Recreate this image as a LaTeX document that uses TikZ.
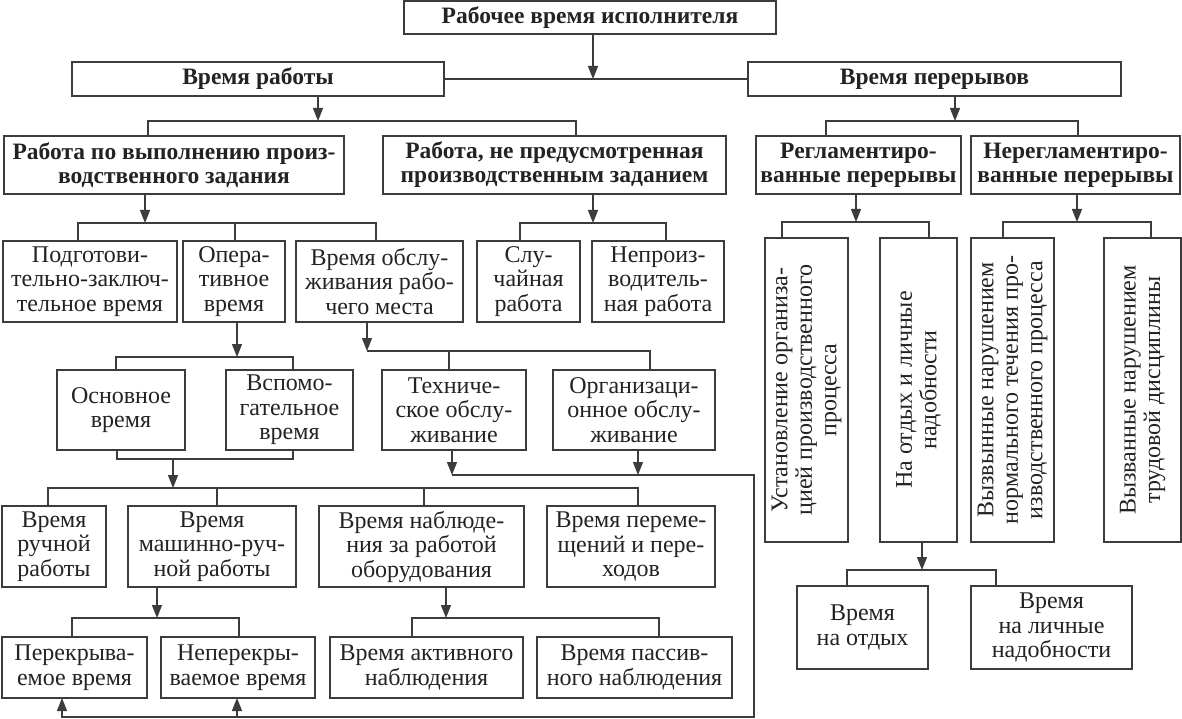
\documentclass[tikz,border=0pt]{standalone}
\usepackage{fontspec}
\setmainfont{Liberation Serif}
\usetikzlibrary{arrows.meta}
\definecolor{linec}{RGB}{60,60,60}
\definecolor{textc}{RGB}{35,35,35}
\tikzset{
  box/.style={draw=linec, line width=1.3pt, inner sep=0pt, outer sep=0pt, align=center,
    text=textc, font=\fontsize{24}{24.5}\selectfont},
  bbox/.style={box, font=\fontsize{23.5}{24}\selectfont\bfseries},
  link/.style={draw=linec, line width=1.3pt},
  arr/.style={link, -{Triangle[length=13pt,width=10pt]}},
}
% name, x1, y1, x2, y2, text (pixel coordinates, y downwards)
\newcommand\mybox[7][]{%
  \pgfmathsetmacro\bxw{#5-#3}\pgfmathsetmacro\bxh{#6-#4}%
  \pgfmathsetmacro\bxx{(#3+#5)/2}\pgfmathsetmacro\bxy{(#4+#6)/2}%
  \node[box,minimum width=\bxw pt,minimum height=\bxh pt,#1] (#2) at (\bxx,\bxy) {#7};}
\newcommand\myvbox[6]{%
  \pgfmathsetmacro\bxw{#4-#2}\pgfmathsetmacro\bxh{#5-#3}%
  \pgfmathsetmacro\bxx{(#2+#4)/2}\pgfmathsetmacro\bxy{(#3+#5)/2}%
  \node[box,rotate=90,minimum width=\bxh pt,minimum height=\bxw pt] (#1) at (\bxx,\bxy) {#6};}
\begin{document}
\begin{tikzpicture}[x=1pt,y=-1pt]
\useasboundingbox[fill=white] (0,0) rectangle (1182,719);
% level 0-1
\mybox[bbox]{root}{404}{1}{776}{34}{Рабочее время исполнителя}
\mybox[bbox]{wt}{72}{62}{444}{96}{Время работы}
\mybox[bbox]{br}{748}{62}{1121}{96}{Время перерывов}
% level 2
\mybox[bbox]{pz}{4}{136}{344}{194}{Работа по выполнению произ-\\водственного задания}
\mybox[bbox]{np}{383}{136}{726}{194}{Работа, не предусмотренная\\производственным заданием}
\mybox[bbox]{rg}{756}{136}{961}{194}{Регламентиро-\\ванные перерывы}
\mybox[bbox]{nr}{971}{136}{1180}{194}{Нерегламентиро-\\ванные перерывы}
% level 3 left
\mybox{pzv}{3}{241}{177}{322}{Подготови-\\тельно-заключ-\\тельное время}
\mybox{op}{183}{241}{285}{322}{Опера-\\тивное\\время}
\mybox{ob}{296}{241}{463}{322}{Время обслу-\\живания рабо-\\чего места}
\mybox{sl}{477}{241}{580}{322}{Слу-\\чайная\\работа}
\mybox{nw}{592}{241}{724}{322}{Непроиз-\\водитель-\\ная работа}
% level 3 right (vertical text)
\myvbox{ust}{765}{238}{848}{542}{Установление организа-\\цией производственного\\процесса}
\myvbox{otd}{880}{238}{957}{542}{На отдых и личные\\надобности}
\myvbox{vna}{971}{238}{1054}{542}{Вызвынные нарушением\\нормального течения про-\\изводственного процесса}
\myvbox{vnb}{1104}{238}{1181}{542}{Вызванные нарушением\\трудовой дисциплины}
% level 4
\mybox{osn}{57}{370}{185}{450}{Основное\\время}
\mybox{vsp}{226}{370}{353}{450}{Вспомо-\\гательное\\время}
\mybox{teh}{382}{370}{526}{450}{Техниче-\\ское обслу-\\живание}
\mybox{org}{553}{370}{715}{450}{Организаци-\\онное обслу-\\живание}
% level 5
\mybox{ruch}{2}{506}{106}{587}{Время\\ручной\\работы}
\mybox{mash}{128}{506}{296}{587}{Время\\машинно-руч-\\ной работы}
\mybox{nab}{319}{506}{524}{587}{Время наблюде-\\ния за работой\\оборудования}
\mybox{per}{547}{506}{715}{587}{Время переме-\\щений и пере-\\ходов}
% level 6
\mybox{pk}{2}{637}{147}{698}{Перекрыва-\\емое время}
\mybox{npk}{161}{637}{315}{698}{Неперекры-\\ваемое время}
\mybox{akt}{330}{637}{523}{698}{Время активного\\наблюдения}
\mybox{pas}{537}{637}{732}{698}{Время пассив-\\ного наблюдения}
% right bottom
\mybox{vo}{797}{586}{928}{669}{Время\\на отдых}
\mybox{vl}{971}{586}{1132}{669}{Время\\на личные\\надобности}

% ---- connectors ----
\draw[link] (wt.east) -- (br.west);
\draw[arr] (root.south -| 593,0) -- (wt.east -| 593,0);
% Время работы
\draw[arr] (wt.south -| 318,0) -- ++(0,25);
\draw[link] (pz.north -| 148,0) -- ++(0,-15) -| (np.north -| 576,0);
% Время перерывов
\draw[arr] (br.south -| 955,0) -- ++(0,25);
\draw[link] (rg.north -| 826,0) -- ++(0,-15) -| (nr.north -| 1078,0);
% Работа по выполнению
\draw[arr] (pz.south -| 145,0) -- ++(0,29);
\draw[link] (pzv.north -| 78,0) -- ++(0,-18) -| (ob.north -| 376,0);
\draw[link] (op.north -| 235,0) -- ++(0,-18);
% Работа, не предусмотренная
\draw[arr] (np.south -| 593,0) -- ++(0,29);
\draw[link] (sl.north -| 520,0) -- ++(0,-18) -| (nw.north -| 666,0);
% Регламентированные
\draw[arr] (rg.south -| 856,0) -- ++(0,28);
\draw[link] (ust.east -| 782,0) -- ++(0,-16) -| (otd.east -| 929,0);
% Нерегламентированные
\draw[arr] (nr.south -| 1077,0) -- ++(0,28);
\draw[link] (vna.east -| 1003,0) -- ++(0,-16) -| (vnb.east -| 1151,0);
% Оперативное
\draw[arr] (op.south -| 237,0) -- ++(0,35);
\draw[link] (osn.north -| 116,0) -- ++(0,-13) -| (vsp.north -| 293,0);
% Время обслуживания
\draw[arr] (ob.south -| 367,0) -- ++(0,29);
\draw[link] (ob.south -| 367,0) ++(0,29) -| (org.north -| 650,0);
\draw[link] (teh.north -| 449,0) -- ++(0,-19);
% Основное + Вспомогательное
\draw[link] (osn.south -| 117,0) -- ++(0,9) -| (vsp.south -| 293,0);
\draw[arr] (osn.south -| 173,0) ++(0,9) -- ++(0,29);
\draw[link] (ruch.north -| 48,0) -- ++(0,-18) -| (per.north -| 638,0);
\draw[link] (mash.north -| 217,0) -- ++(0,-18);
\draw[link] (nab.north -| 424,0) -- ++(0,-18);
% Техническое + Организационное -> перекрываемое/неперекрываемое
\draw[arr] (teh.south -| 452,0) -- ++(0,25);
\draw[arr] (org.south -| 638,0) -- ++(0,25);
\draw[arr] (teh.south -| 452,0) ++(0,25) -- ++(302,0) -- ++(0,242) -| (pk.south -| 62,0);
\draw[arr] (npk.south -| 237,0) ++(0,19) -- (npk.south -| 237,0);
% машинно-ручной
\draw[arr] (mash.south -| 157,0) -- ++(0,31);
\draw[link] (pk.north -| 72,0) -- ++(0,-19) -| (npk.north -| 239,0);
% наблюдения
\draw[arr] (nab.south -| 446,0) -- ++(0,31);
\draw[link] (akt.north -| 412,0) -- ++(0,-19) -| (pas.north -| 659,0);
% на отдых и личные надобности
\draw[arr] (otd.west -| 922,0) -- ++(0,28);
\draw[link] (vo.north -| 847,0) -- ++(0,-16) -| (vl.north -| 996,0);
\end{tikzpicture}
\end{document}
